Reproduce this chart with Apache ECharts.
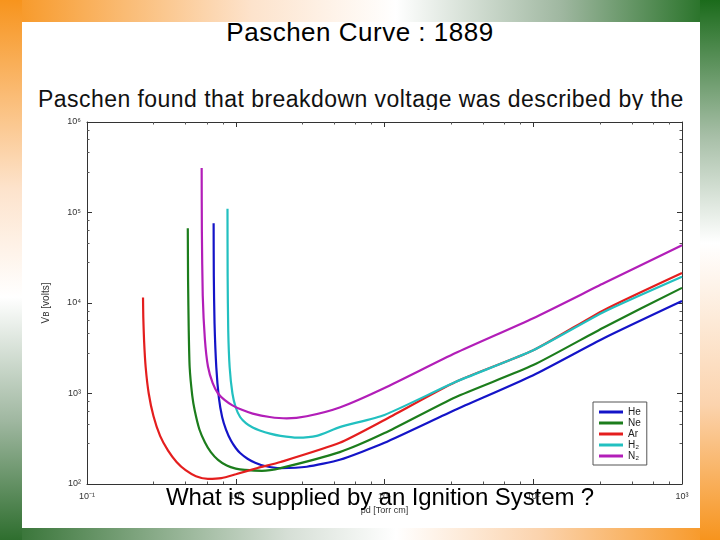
<!DOCTYPE html>
<html>
<head>
<meta charset="utf-8">
<script src="https://cdn.jsdelivr.net/npm/echarts@6/dist/echarts.min.js"></script>
<style>
  html, body { margin: 0; padding: 0; }
  body {
    width: 720px; height: 540px; position: relative; overflow: hidden;
    font-family: "Liberation Sans", Arial, sans-serif;
    background: #fff;
  }
  .band { position: absolute; }
  #top { left: 0; top: 0; width: 720px; height: 22px;
    background: linear-gradient(to right, #f7941d 0%, #fde3cc 35%, #ffffff 55%, #9fb7a0 78%, #1b6b1b 100%); }
  #bottom { left: 0; bottom: 0; width: 720px; height: 14px;
    background: linear-gradient(to right, #2e6e2e 0%, #d6dfd6 40%, #ffffff 55%, #fbd3ad 75%, #f7941d 100%); }
  #left { left: 0; top: 0; width: 22px; height: 540px;
    background: linear-gradient(to bottom, #f7941d 0%, #fde3cc 35%, #ffffff 55%, #9fb7a0 78%, #2e6e2e 100%); }
  #right { right: 0; top: 0; width: 20px; height: 540px;
    background: linear-gradient(to bottom, #1b6b1b 0%, #a6bea6 25%, #ffffff 45%, #fbd3ad 75%, #f7941d 100%); }
  #title { position: absolute; left: 0; width: 720px; top: 17px; text-align: center; font-size: 26px; color: #000; letter-spacing: 0.5px; }
  #sub { position: absolute; left: 38px; top: 86px; font-size: 23px; color: #111; white-space: nowrap; letter-spacing: 0.45px; }
  #chart { position: absolute; left: 22px; top: 110px; width: 678px; height: 418px; background: #fff; }
  #q { position: absolute; left: 0; width: 760px; top: 483px; text-align: center; font-size: 24px; color: #000; letter-spacing: -0.1px; }
</style>
</head>
<body>
<div class="band" id="top"></div>
<div class="band" id="bottom"></div>
<div class="band" id="left"></div>
<div class="band" id="right"></div>
<div id="title">Paschen Curve : 1889</div>
<div id="sub">Paschen found that breakdown voltage was described by the</div>
<div id="chart"></div>
<div id="q">What is supplied by an Ignition System ?</div>
<script>
// pd [Torr cm] vs breakdown voltage [V]
var hePd = [0.71, 0.712, 0.72, 0.74, 0.77, 0.81, 0.86, 0.93, 1.0, 1.07, 1.2, 1.35, 1.57, 2, 3, 5, 10, 30, 100, 300, 1000];
var heV  = [76000, 20000, 6000, 1950, 900, 550, 400, 300, 250, 220, 190, 172, 158, 150, 155, 185, 285, 660, 1590, 4100, 10500];
var nePd = [0.476, 0.478, 0.483, 0.49, 0.51, 0.53, 0.57, 0.62, 0.68, 0.76, 0.87, 1.0, 1.15, 1.5, 2, 5, 10, 30, 100, 300, 1000];
var neV  = [67000, 18000, 5000, 1950, 950, 650, 400, 290, 225, 185, 160, 148, 143, 140, 150, 225, 365, 910, 2060, 5400, 14700];
var arPd = [0.238, 0.239, 0.242, 0.248, 0.26, 0.28, 0.31, 0.35, 0.4, 0.46, 0.54, 0.65, 0.8, 1, 1.4, 2, 5, 10, 30, 100, 300, 1000];
var arV  = [11500, 7000, 3800, 1950, 1000, 560, 340, 235, 175, 142, 122, 114, 116, 128, 150, 175, 285, 510, 1340, 3000, 8400, 21500];
var h2Pd = [0.88, 0.882, 0.89, 0.91, 0.95, 1.0, 1.07, 1.17, 1.3, 1.45, 1.7, 2, 2.6, 3.5, 5, 10, 30, 100, 300, 1000];
var h2V  = [110000, 20000, 5000, 1950, 1000, 700, 550, 470, 420, 390, 360, 340, 325, 340, 425, 580, 1340, 3000, 8000, 19500];
var n2Pd = [0.59, 0.592, 0.6, 0.62, 0.65, 0.7, 0.76, 0.84, 0.95, 1.1, 1.3, 1.69, 2.2, 3, 5, 10, 30, 100, 300, 1000];
var n2V  = [310000, 60000, 12000, 4000, 2000, 1300, 1000, 850, 740, 660, 600, 550, 530, 560, 700, 1150, 2800, 6800, 16600, 43500];

var gases = [
  { name: 'He', pd: hePd, v: heV, color: '#1414c8' },
  { name: 'Ne', pd: nePd, v: neV, color: '#1c7d1c' },
  { name: 'Ar', pd: arPd, v: arV, color: '#e41e1e' },
  { name: 'H\u2082', pd: h2Pd, v: h2V, color: '#22c0c0' },
  { name: 'N\u2082', pd: n2Pd, v: n2V, color: '#b21eb8' }
];

var sup = { '-1': '\u207b\u00b9', '0': '\u2070', '1': '\u00b9', '2': '\u00b2', '3': '\u00b3', '4': '\u2074', '5': '\u2075', '6': '\u2076' };
function powLabel(v) { return '10' + sup[String(Math.round(Math.log10(v)))]; }

var chart = echarts.init(document.getElementById('chart'));
var tickStyle = { show: true, inside: true, length: 5, lineStyle: { color: '#333' } };
var minorStyle = { show: true, length: 2.5, lineStyle: { color: '#555' } };
var axisLine = { show: true, lineStyle: { color: '#333', width: 1 } };

chart.setOption({
  animation: false,
  backgroundColor: '#fff',
  grid: { left: 65, right: 18, top: 12, bottom: 44 },
  legend: {
    orient: 'vertical', left: 571, top: 292,
    itemWidth: 24, itemHeight: 3, itemGap: 1,
    padding: [5, 6, 4, 6],
    borderColor: '#555', borderWidth: 1, backgroundColor: '#fff',
    textStyle: { fontSize: 10, color: '#222' },
    data: gases.map(function (g) { return { name: g.name, icon: 'rect' }; })
  },
  xAxis: [{
    type: 'log', min: 0.1, max: 1000, logBase: 10,
    name: 'pd [Torr cm]', nameLocation: 'middle', nameGap: 22,
    nameTextStyle: { fontSize: 9, color: '#333' },
    axisLine: axisLine, axisTick: tickStyle, minorTick: minorStyle,
    splitLine: { show: false },
    axisLabel: { fontSize: 9, color: '#333', formatter: powLabel, margin: 8 }
  }, {
    type: 'log', min: 0.1, max: 1000, position: 'top',
    axisLine: axisLine, axisTick: tickStyle, minorTick: minorStyle,
    splitLine: { show: false }, axisLabel: { show: false }
  }],
  yAxis: [{
    type: 'log', min: 100, max: 1000000, logBase: 10,
    name: 'V\u0299 [volts]', nameLocation: 'middle', nameGap: 36, nameRotate: 90,
    nameTextStyle: { fontSize: 10, color: '#333' },
    axisLine: axisLine, axisTick: tickStyle, minorTick: minorStyle,
    splitLine: { show: false },
    axisLabel: { fontSize: 9, color: '#333', formatter: powLabel, margin: 6 }
  }, {
    type: 'log', min: 100, max: 1000000, position: 'right',
    axisLine: axisLine, axisTick: tickStyle, minorTick: minorStyle,
    splitLine: { show: false }, axisLabel: { show: false }
  }],
  series: gases.map(function (g) {
    return {
      name: g.name, type: 'line', smooth: 0.2, symbol: 'none',
      color: g.color, lineStyle: { width: 2.2, color: g.color },
      data: g.pd.map(function (p, i) { return [p, g.v[i]]; })
    };
  })
});
</script>
</body>
</html>
